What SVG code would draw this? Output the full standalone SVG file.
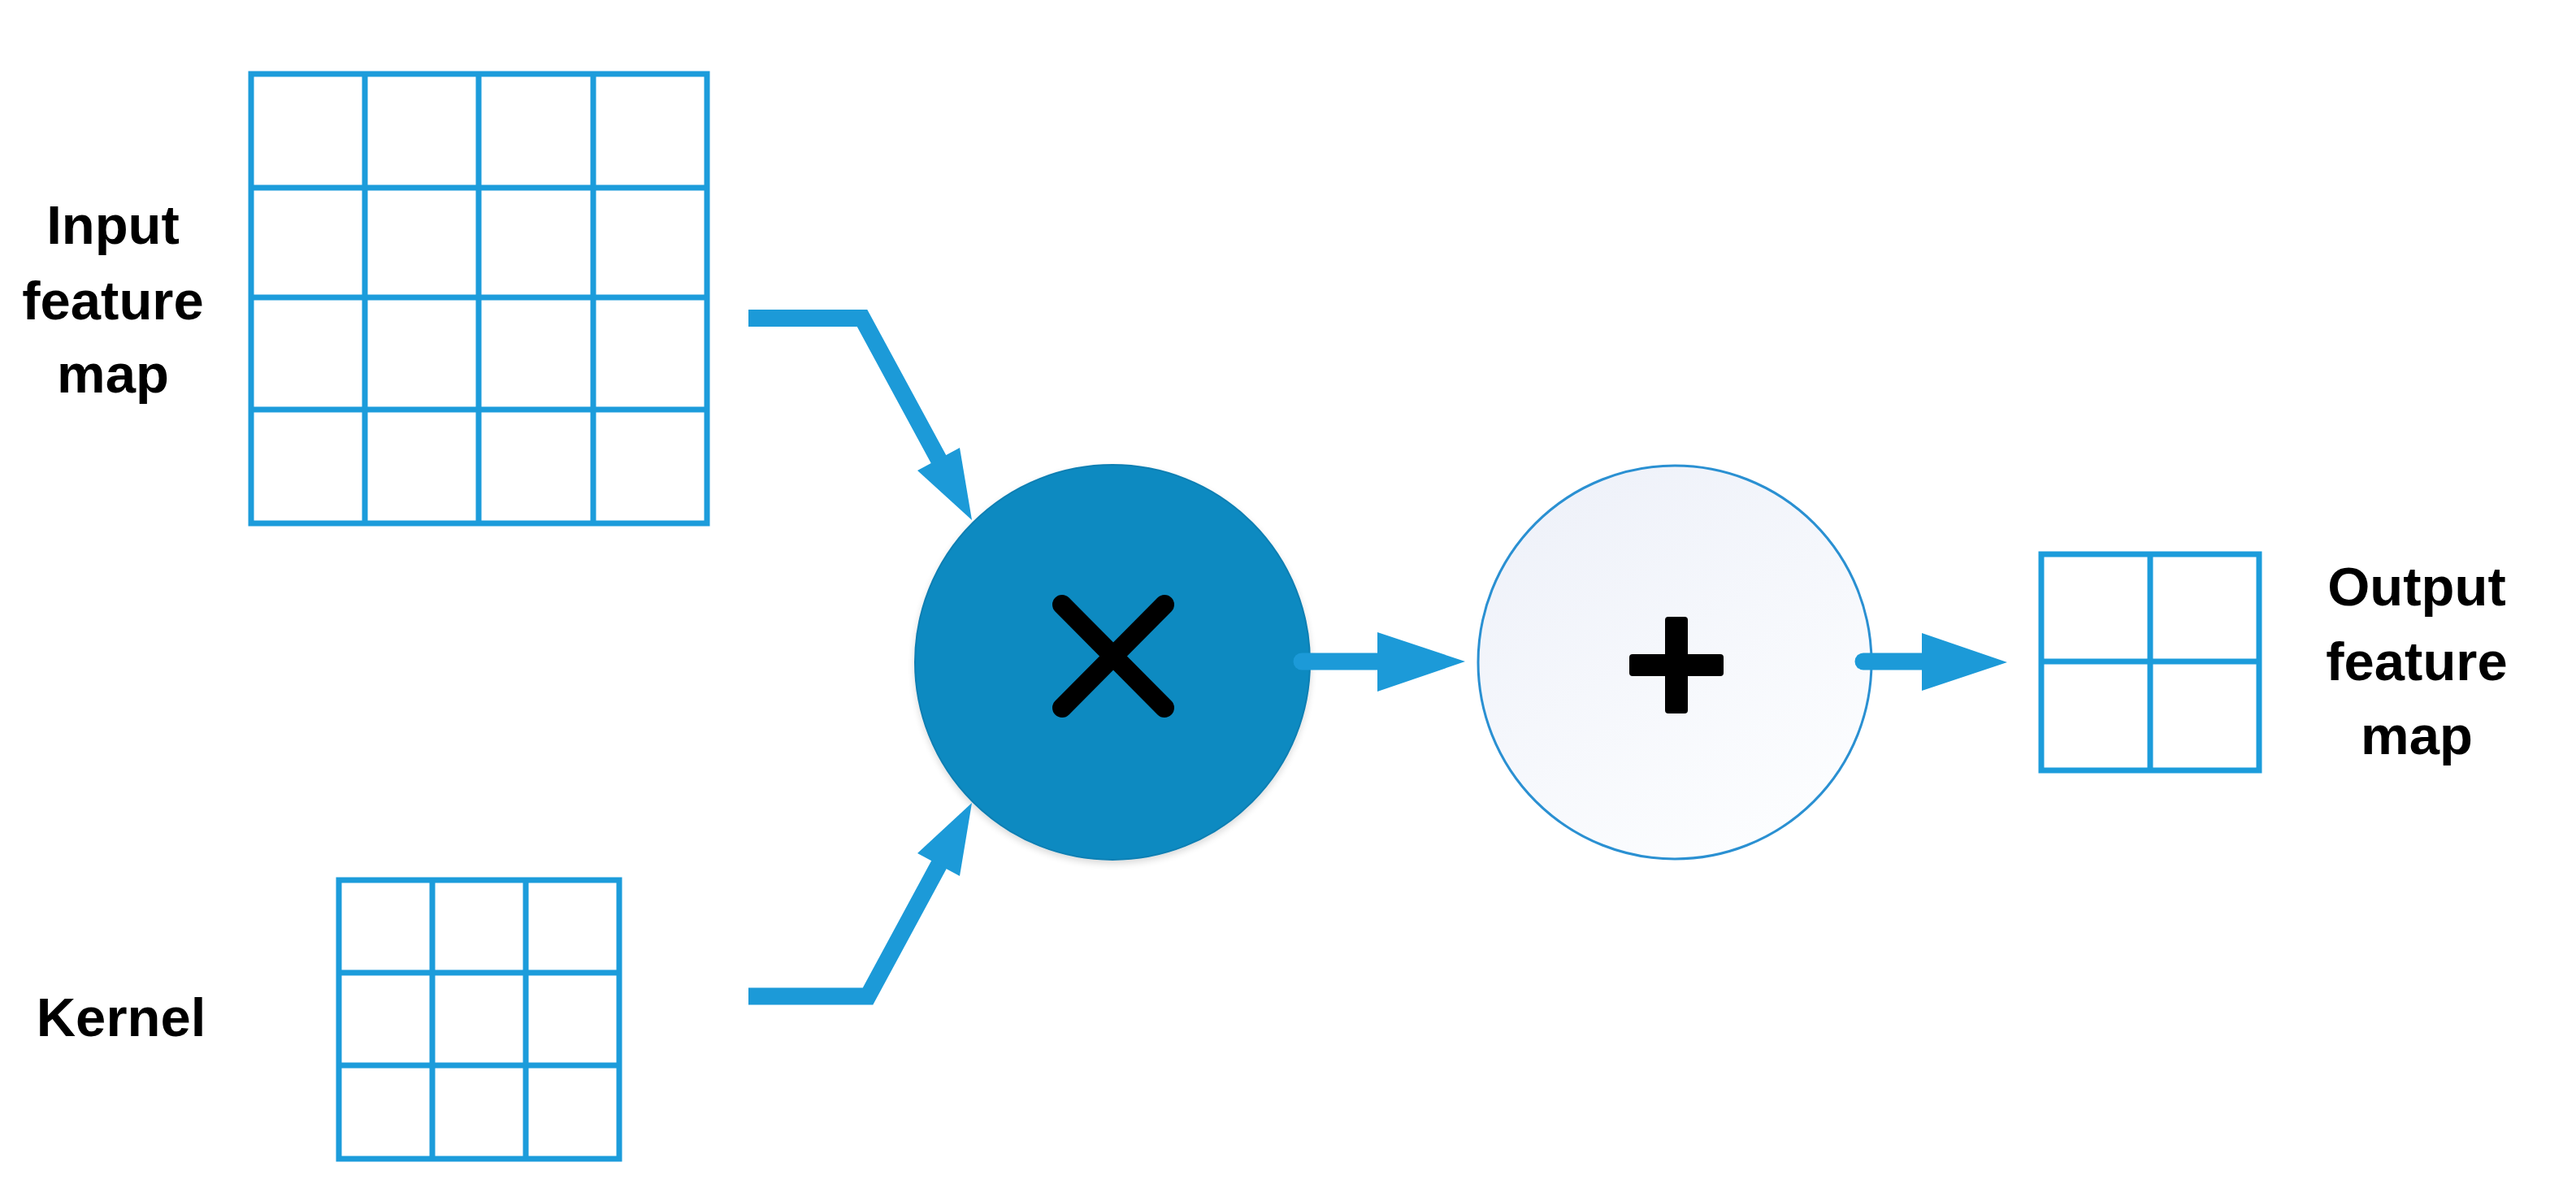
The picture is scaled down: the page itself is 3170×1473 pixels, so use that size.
<svg xmlns="http://www.w3.org/2000/svg" width="3170" height="1473" viewBox="0 0 3170 1473">
<style>
.grid{fill:none;stroke:#1c9cdb;stroke-width:7}
.lbl{font-family:"Liberation Sans",Arial,sans-serif;font-weight:bold;font-size:67px;fill:#000;text-anchor:middle}
.conn{fill:none;stroke:#1c9ad8;stroke-width:21;stroke-linejoin:miter}
.head{fill:#1c9ad8}
.mark{stroke:#000;stroke-width:24;stroke-linecap:round;fill:none}
</style>
<defs>
<linearGradient id="plusFill" x1="0.2" y1="0" x2="0.8" y2="1">
<stop offset="0" stop-color="#eef1f9"/>
<stop offset="1" stop-color="#fdfeff"/>
</linearGradient>
<filter id="shadow" x="-10%" y="-10%" width="120%" height="125%">
<feGaussianBlur in="SourceAlpha" stdDeviation="4"/>
<feOffset dx="0" dy="4" result="b"/>
<feComponentTransfer><feFuncA type="linear" slope="0.15"/></feComponentTransfer>
<feMerge><feMergeNode/><feMergeNode in="SourceGraphic"/></feMerge>
</filter>
</defs>
<rect width="3170" height="1473" fill="#ffffff"/>

<g id="input-feature-map">
<rect class="grid" x="309" y="91" width="561" height="553"/>
<path class="grid" d="M449 91V644M589 91V644M730 91V644M309 231H870M309 366H870M309 504H870"/>
<text class="lbl" x="139" y="300">Input</text>
<text class="lbl" x="139" y="393">feature</text>
<text class="lbl" x="139" y="483">map</text>
</g>

<g id="kernel">
<rect class="grid" x="417" y="1083" width="345" height="343"/>
<path class="grid" d="M532 1083V1426M647 1083V1426M417 1197H762M417 1311H762"/>
<text class="lbl" x="149" y="1275">Kernel</text>
</g>

<g id="multiply">
<circle cx="1369" cy="815" r="243" fill="#118ac1" stroke="#0f7fb3" stroke-width="2" filter="url(#shadow)"/>
<path class="mark" d="M1307 744L1433 871M1433 744L1307 871"/>
</g>

<g id="sum">
<circle cx="2061" cy="815" r="242" fill="url(#plusFill)" stroke="#2a90d2" stroke-width="3"/>
<rect x="2049" y="759" width="28" height="119" rx="4" fill="#000"/>
<rect x="2005" y="805" width="116" height="27" rx="4" fill="#000"/>
</g>

<g id="output-feature-map">
<rect class="grid" x="2512" y="682" width="268" height="266"/>
<path class="grid" d="M2646 682V948M2512 814H2780"/>
<text class="lbl" x="2974" y="745">Output</text>
<text class="lbl" x="2974" y="837">feature</text>
<text class="lbl" x="2974" y="928">map</text>
</g>

<g id="connectors">
<path class="conn" d="M921 391.5H1061L1162 578"/>
<polygon class="head" points="1196,640 1129,579 1181,551"/>
<path class="conn" d="M921 1226H1068L1162 1052"/>
<polygon class="head" points="1196,988 1129,1050 1181,1078"/>
<path class="conn" d="M1602 814H1700" stroke-linecap="round" stroke-width="22"/>
<polygon class="head" points="1695,778 1803,814 1695,851"/>
<path class="conn" d="M2293 814H2370" stroke-linecap="round" stroke-width="22"/>
<polygon class="head" points="2365,779 2470,815 2365,850"/>
</g>
</svg>
